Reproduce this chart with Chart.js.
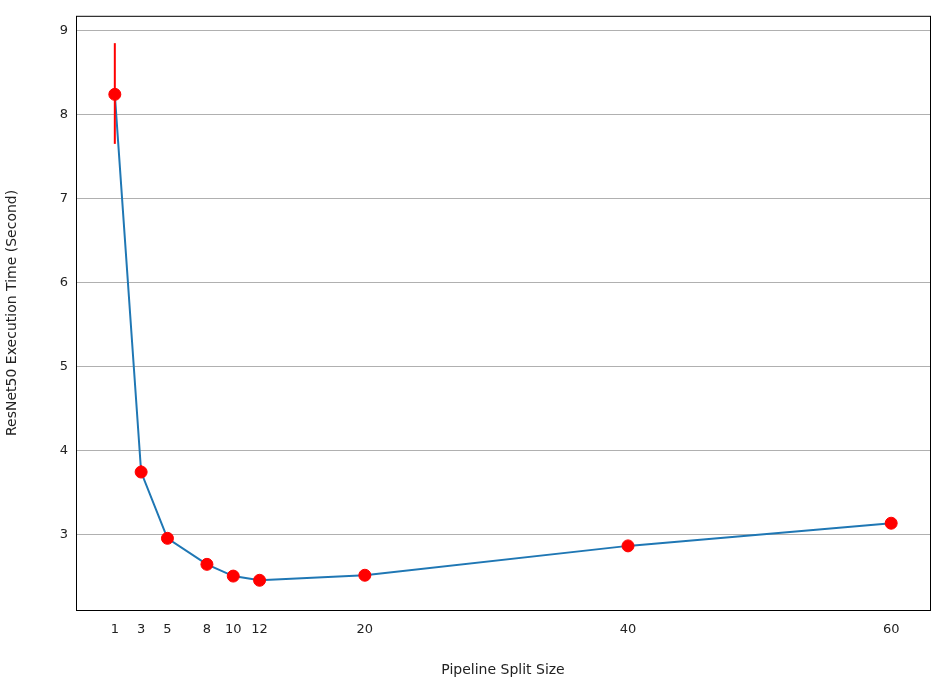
<!DOCTYPE html>
<html>
<head>
<meta charset="utf-8">
<script src="https://cdn.jsdelivr.net/npm/chart.js@4/dist/chart.umd.min.js"></script>
<style>
  html, body { margin: 0; padding: 0; background: #fff; }
</style>
</head>
<body>
<canvas id="chart" width="945" height="683"></canvas>
<script>
// split sizes and measured times
const splitSizes = [1, 3, 5, 8, 10, 12, 20, 40, 60];
const execTimes = [8.24, 3.74, 2.95, 2.64, 2.50, 2.45, 2.51, 2.86, 3.13];
const errLow = [7.65, 3.68, 2.92, 2.62, 2.48, 2.43, 2.49, 2.84, 3.11];
const errHigh = [8.85, 3.82, 2.98, 2.66, 2.52, 2.47, 2.53, 2.88, 3.15];
const yTicks = [3, 4, 5, 6, 7, 8, 9];

const points = splitSizes.map((x, i) => ({ x: x, y: execTimes[i] }));

// error bars + frame
const errorBars = {
  id: "errorBars",
  afterDatasetsDraw(chart) {
    const { ctx, scales: { x, y } } = chart;
    ctx.save();
    ctx.strokeStyle = "red";
    ctx.lineWidth = 2;
    splitSizes.forEach((s, i) => {
      const px = x.getPixelForValue(s);
      ctx.beginPath();
      ctx.moveTo(px, y.getPixelForValue(errLow[i]));
      ctx.lineTo(px, y.getPixelForValue(errHigh[i]));
      ctx.stroke();
    });
    ctx.restore();
  },
  afterDraw(chart) {
    const { ctx, chartArea: a } = chart;
    ctx.save();
    ctx.strokeStyle = "#000";
    ctx.lineWidth = 1;
    ctx.strokeRect(a.left + 0.5, a.top + 0.5, a.right - a.left, a.bottom - a.top);
    ctx.restore();
  }
};

const ctx = document.getElementById("chart").getContext("2d");
new Chart(ctx, {
  type: "scatter",
  data: {
    datasets: [{
      data: points,
      showLine: true,
      borderColor: "#1f77b4",
      borderWidth: 2,
      pointRadius: 0,
      order: 2
    }, {
      data: points,
      showLine: false,
      backgroundColor: "red",
      borderColor: "red",
      pointRadius: 6,
      order: 1
    }]
  },
  options: {
    responsive: false,
    animation: false,
    devicePixelRatio: 1,
    layout: { padding: { top: 7, right: 15, left: 0, bottom: 0 } },
    plugins: { legend: { display: false }, tooltip: { enabled: false } },
    scales: {
      x: {
        type: "linear",
        min: -1.95,
        max: 62.95,
        afterBuildTicks: (axis) => { axis.ticks = splitSizes.map(v => ({ value: v })); },
        afterFit: (axis) => { axis.height = 73; },
        grid: { display: false },
        border: { display: false },
        ticks: { color: "#222", font: { family: "DejaVu Sans", size: 13 }, autoSkip: false, maxRotation: 0, padding: 4 },
        title: { display: true, text: "Pipeline Split Size", color: "#222", font: { family: "DejaVu Sans", size: 14 }, padding: { top: 2 } }
      },
      y: {
        min: 2.096,
        max: 9.176,
        afterBuildTicks: (axis) => { axis.ticks = yTicks.map(v => ({ value: v })); },
        afterFit: (axis) => { axis.width = 76; },
        grid: { color: "#b0b0b0", lineWidth: 1, drawTicks: false },
        border: { display: false },
        ticks: { color: "#222", font: { family: "DejaVu Sans", size: 13 }, padding: 8, autoSkip: false },
        title: { display: true, text: "ResNet50 Execution Time (Second)", color: "#222", font: { family: "DejaVu Sans", size: 14 } }
      }
    }
  },
  plugins: [errorBars]
});
</script>
</body>
</html>
